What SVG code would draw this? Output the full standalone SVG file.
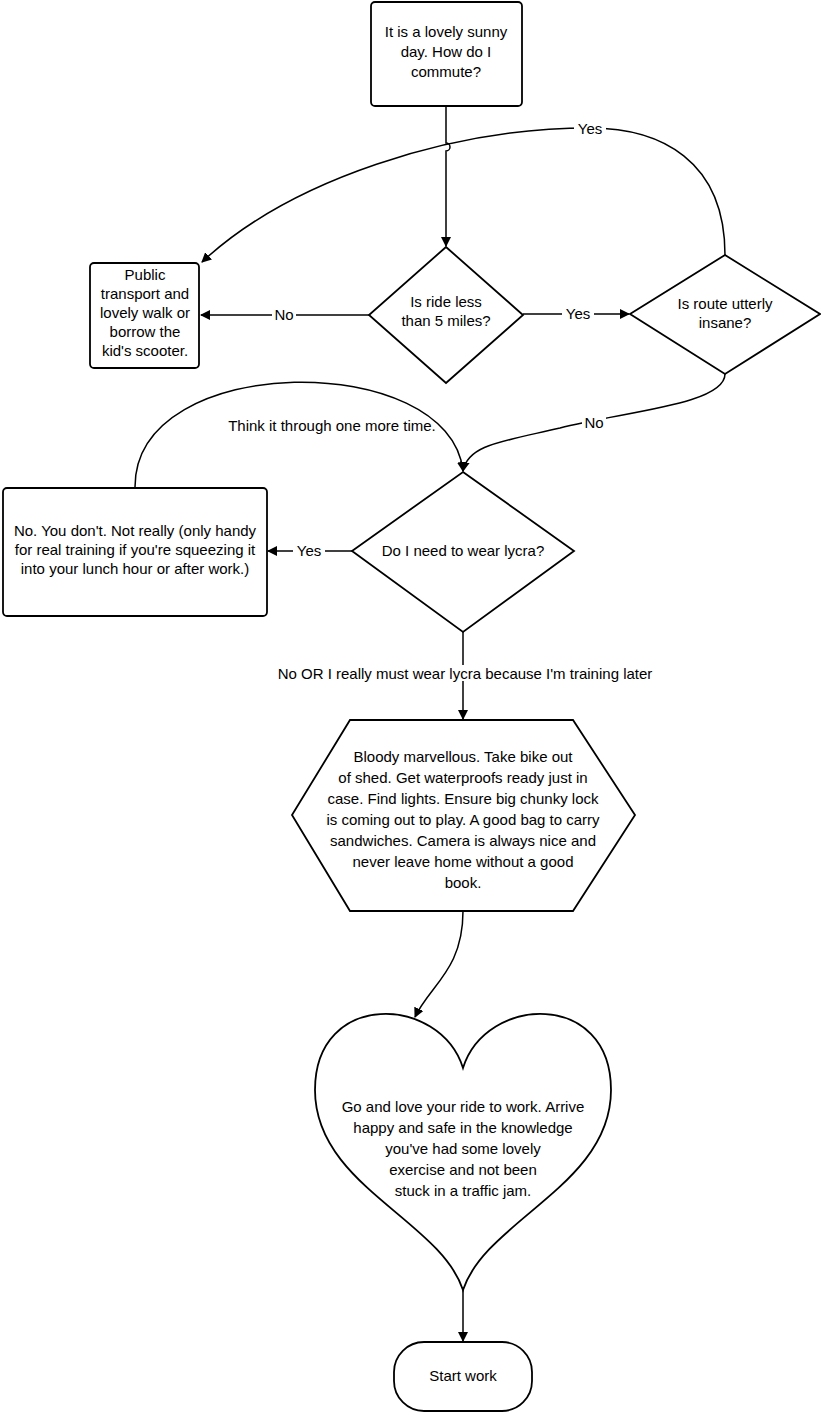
<svg xmlns="http://www.w3.org/2000/svg" width="821" height="1415" viewBox="0 0 821 1415">
<style>
.s{fill:#fff;stroke:#000;stroke-width:1.8}
.c{fill:none;stroke:#000;stroke-width:1.5}
text{font-family:"Liberation Sans",Arial,sans-serif;font-size:15px;fill:#000;text-anchor:middle}
.lb{fill:#fff}
</style>
<defs><marker id="a" markerWidth="10" markerHeight="10" refX="9" refY="5" orient="auto" markerUnits="userSpaceOnUse" viewBox="0 0 10 10"><path d="M0,0 L10,5 L0,10 Z"/></marker></defs>
<rect width="821" height="1415" fill="#fff"/>
<g id="connectors">
<path class="c" d="M446,106 V143 a4,4 0 0 1 0,8 V246" marker-end="url(#a)"/>
<path class="c" d="M725,255 C725,160 660,128 590,128 C450,128 290,180 202,262" marker-end="url(#a)"/>
<path class="c" d="M369,315 H201" marker-end="url(#a)"/>
<path class="c" d="M523,314 H629" marker-end="url(#a)"/>
<path class="c" d="M725,374 C725,405 620,412 560,428 C500,442 468,445 463,471" marker-end="url(#a)"/>
<path class="c" d="M135,487 C135,350 450,350 463,471" marker-end="url(#a)"/>
<path class="c" d="M352,551 H268" marker-end="url(#a)"/>
<path class="c" d="M463,632 V719" marker-end="url(#a)"/>
<path class="c" d="M463,911 C463,970 430,985 415,1017" marker-end="url(#a)"/>
<path class="c" d="M463,1290 V1341" marker-end="url(#a)"/>
<rect class="lb" x="574" y="121" width="32" height="16"/><text x="590" y="134">Yes</text>
<rect class="lb" x="272" y="307" width="24" height="16"/><text x="284" y="320">No</text>
<rect class="lb" x="562" y="306" width="32" height="16"/><text x="578" y="319">Yes</text>
<rect class="lb" x="582" y="415" width="24" height="16"/><text x="594" y="428">No</text>
<text x="332" y="431">Think it through one more time.</text>
<rect class="lb" x="293" y="543" width="32" height="16"/><text x="309" y="556">Yes</text>
<rect class="lb" x="268" y="665" width="394" height="16"/><text x="465" y="679">No OR I really must wear lycra because I'm training later</text>
</g>
<g id="start"><rect class="s" x="371" y="2" width="151" height="104" rx="4"/>
<text x="446" y="37">It is a lovely sunny</text><text x="446" y="57">day. How do I</text><text x="446" y="77">commute?</text></g>
<g id="public"><rect class="s" x="90" y="263" width="109" height="105" rx="4"/>
<text x="145" y="280">Public</text><text x="145" y="299">transport and</text><text x="145" y="318">lovely walk or</text><text x="145" y="337">borrow the</text><text x="145" y="356">kid's scooter.</text></g>
<g id="ride"><path class="s" d="M446,247 L523,315 L446,383 L369,315 Z"/>
<text x="446" y="307">Is ride less</text><text x="446" y="326">than 5 miles?</text></g>
<g id="insane"><path class="s" d="M725,255 L820,314 L725,374 L630,314 Z"/>
<text x="725" y="309">Is route utterly</text><text x="725" y="328">insane?</text></g>
<g id="lycra"><path class="s" d="M463,472 L574,551 L463,632 L352,551 Z"/>
<text x="463" y="556">Do I need to wear lycra?</text></g>
<g id="no-lycra"><rect class="s" x="3" y="488" width="264" height="128" rx="4"/>
<text x="135" y="536">No. You don't. Not really (only handy</text><text x="135" y="555">for real training if you're squeezing it</text><text x="135" y="574">into your lunch hour or after work.)</text></g>
<g id="marvellous"><path class="s" d="M350,720 L573,720 L635,815 L573,911 L350,911 L292,815 Z"/>
<text x="463" y="762">Bloody marvellous. Take bike out</text><text x="463" y="783">of shed. Get waterproofs ready just in</text><text x="463" y="804">case. Find lights. Ensure big chunky lock</text><text x="463" y="825">is coming out to play. A good bag to carry</text><text x="463" y="846">sandwiches. Camera is always nice and</text><text x="463" y="867">never leave home without a good</text><text x="463" y="888">book.</text></g>
<g id="love"><path class="s" d="M463,1068 C440,995 315,990 315,1090 C315,1185 440,1220 463,1290 C486,1220 611,1185 611,1090 C611,990 486,995 463,1068 Z"/>
<text x="463" y="1112">Go and love your ride to work. Arrive</text><text x="463" y="1133">happy and safe in the knowledge</text><text x="463" y="1154">you've had some lovely</text><text x="463" y="1175">exercise and not been</text><text x="463" y="1196">stuck in a traffic jam.</text></g>
<g id="work"><rect class="s" x="394" y="1342" width="138" height="69" rx="30"/>
<text x="463" y="1381">Start work</text></g>
</svg>
